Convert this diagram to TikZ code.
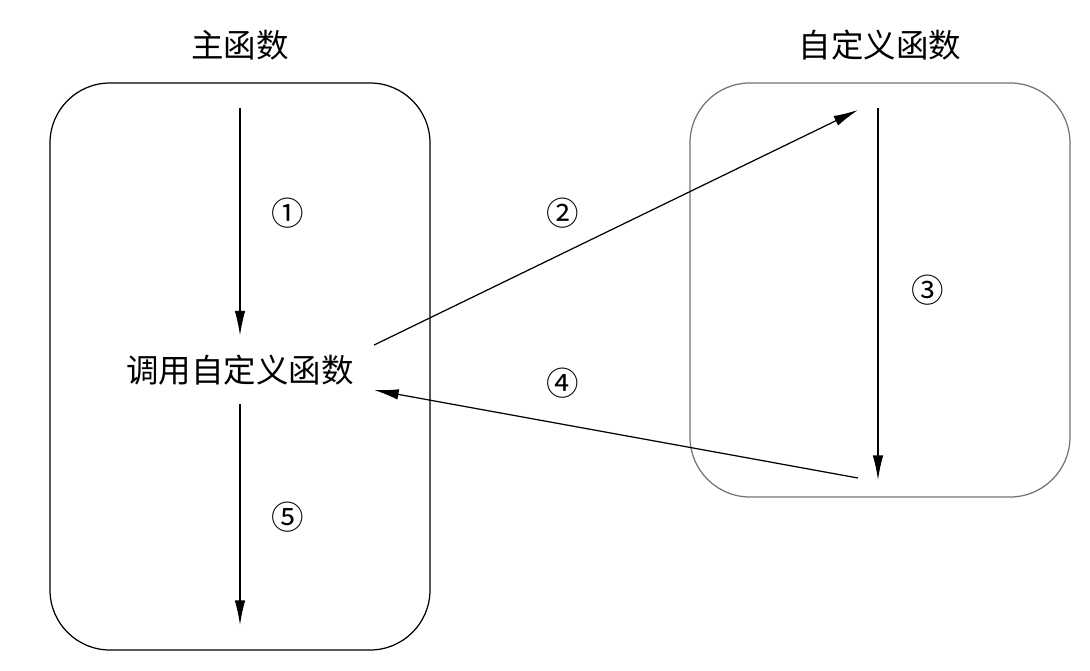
\documentclass[tikz,border=0pt]{standalone}
\usepackage{fontspec}
\newfontfamily\cjk{Noto Sans CJK SC}
\usetikzlibrary{arrows.meta}
\begin{document}
\begin{tikzpicture}[x=0.02cm, y=-0.02cm, font=\cjk\fontsize{18.5pt}{22pt}\selectfont]
		% Define styles
		\tikzstyle{frame}=[draw=black, line width=0.7pt, rounded corners=1.2cm]
		\tikzstyle{flow}=[-{Latex[length=14pt, width=6pt]}, line width=0.7pt]
		\useasboundingbox (0,0) rectangle (1090,671);

		% Define frames
		\draw[frame] (50,83) rectangle (430,650);
		\draw[frame, draw=black!55] (690,83) rectangle (1070,497);
		\node (main) at (240,45) {主函数};
		\node (sub) at (880,45) {自定义函数};

		% Define nodes
		\coordinate (mtop) at (240,108);
		\coordinate (mbot) at (240,625);
		\coordinate (stop) at (878,108);
		\coordinate (sbot) at (878,480);
		\coordinate (cin) at (858,110);
		\coordinate (cout) at (858,478);
		\node (call) [inner xsep=0.4cm, inner ysep=0.38cm] at (240,370) {调用自定义函数};
		\node (n1) at (288,213) {①};
		\node (n2) at (563,213) {②};
		\node (n3) at (928,290) {③};
		\node (n4) at (563,383) {④};
		\node (n5) at (288,517) {⑤};

		% Define edges
		\draw[flow] (mtop) -- (call.north -| mtop);
		\draw[flow] (call.south -| mtop) -- (mbot);
		\draw[flow] ([yshift=0.5cm]call.east) -- (cin);
		\draw[flow] (stop) -- (sbot);
		\draw[flow] (cout) -- ([yshift=-0.4cm]call.east);
	\end{tikzpicture}
\end{document}
